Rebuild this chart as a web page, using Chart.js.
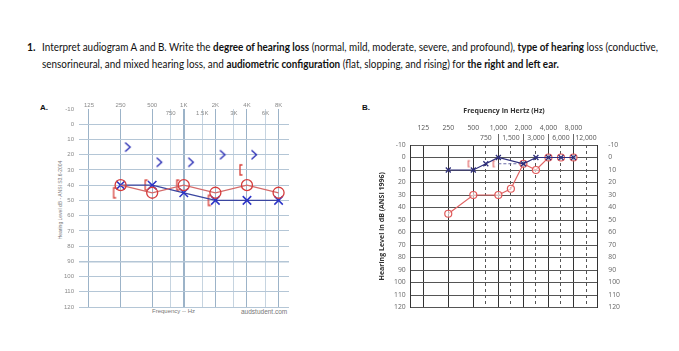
<!DOCTYPE html>
<html>
<head>
<meta charset="utf-8">
<script src="https://cdn.jsdelivr.net/npm/chart.js@4.4.0/dist/chart.umd.min.js"></script>
<style>
  body { margin: 0; background: #fff; width: 679px; height: 351px; overflow: hidden; position: relative; font-family: Lato, "Open Sans", sans-serif; }
  .q { position: absolute; left: 42px; font-size: 10.5px; line-height: 12px; color: #111; white-space: nowrap; transform-origin: 0 50%; }
  .num { position: absolute; left: 27px; top: 41px; font-size: 10.5px; line-height: 12px; font-weight: bold; color: #111; }
  .tag { position: absolute; font: bold 8px Arial, sans-serif; color: #111; }
  .cap { position: absolute; font: 6px Arial, sans-serif; color: #777; white-space: nowrap; }
  canvas { position: absolute; }
</style>
</head>
<body>
<div class="num">1.</div>
<div class="q" id="q1" style="top:41px">Interpret audiogram A and B. Write the <b>degree of hearing loss</b> (normal, mild, moderate, severe, and profound), <b>type of hearing</b> loss (conductive,</div>
<div class="q" id="q2" style="top:58px">sensorineural, and mixed hearing loss, and <b>audiometric configuration</b> (flat, slopping, and rising) for <b>the right and left ear.</b></div>

<div class="tag" style="left:40px; top:103px">A.</div>
<div class="tag" style="left:362px; top:103px">B.</div>
<div class="cap" style="left:152px; top:308px">Frequency -- Hz</div>
<div class="cap" style="left:241px; top:308px; font-size:6.5px">audstudent.com</div>
<div class="cap" style="left:60px; top:200px; font-size:5px; transform: translate(-50%, -50%) rotate(-90deg);">Hearing Level dB - ANSI S3.6-2004</div>

<canvas id="chartA" width="270" height="222" style="left:30px; top:95px"></canvas>
<canvas id="chartB" width="280" height="222" style="left:360px; top:95px"></canvas>

<script>
// shared axes
const octaveFreqs = [125, 250, 500, 1000, 2000, 4000, 8000];
const dbTicks = [-10, 0, 10, 20, 30, 40, 50, 60, 70, 80, 90, 100, 110, 120];

// audiogram A
const octaveLabelsA = ['125', '250', '500', '1K', '2K', '4K', '8K'];
const halfFreqsA = [750, 1500, 3000, 6000];
const halfLabelsA = ['750', '1.5K', '3K', '6K'];
const freqA = [250, 500, 1000, 2000, 4000, 8000];
const rightAirA = [40, 45, 40, 45, 40, 45];
const leftAirA = [40, 40, 45, 50, 50, 50];
const boneFreqA = [250, 500, 1000, 2000, 4000];
const rightBoneA = [45, 40, 40, 50, 30];
const leftBoneA = [15, 25, 25, 20, 20];

// audiogram B
const octaveLabelsB = ['125', '250', '500', '1,000', '2,000', '4,000', '8,000'];
const halfFreqsB = [750, 1500, 3000, 6000, 12000];
const halfLabelsB = ['750', '1,500', '3,000', '6,000', '12,000'];
const rightFreqB = [250, 500, 1000, 1500, 2000, 3000, 4000, 6000, 8000];
const rightAirB = [45, 30, 30, 25, 5, 10, 0, 0, 0];
const leftFreqB = [250, 500, 750, 1000, 2000, 3000, 4000, 6000, 8000];
const leftAirB = [10, 10, 5, 0, 5, 0, 0, 0, 0];
const rightBoneFreqB = [500, 1000];
const rightBoneB = [5, 5];
const leftBoneFreqB = [1000, 2000];
const leftBoneB = [5, 5];

// fit question lines to the page width
const q1 = document.getElementById('q1');
const q2 = document.getElementById('q2');
const sx = 616 / q1.getBoundingClientRect().width;
q1.style.transform = 'scaleX(' + sx + ')';
q2.style.transform = 'scaleX(' + sx + ')';

// A uses a true log axis, B puts the half octaves in the middle
const octA = f => Math.log2(f / 125);
const octB = f => {
  const n = Math.floor(Math.log2(f / 125) + 1e-9);
  return f === 125 * Math.pow(2, n) ? n : n + 0.5;
};
const pts = (fs, vs, pos) => fs.map((f, i) => ({ x: pos(f), y: vs[i] }));
const setTicks = values => scale => { scale.ticks = values.map(v => ({ value: v })); };

function symbol(draw) {
  const c = document.createElement('canvas');
  c.width = 30; c.height = 16;
  draw(c.getContext('2d'));
  return c;
}
const chevronA = symbol(g => {
  g.strokeStyle = '#2b2fb5'; g.lineWidth = 1.4;
  g.beginPath(); g.moveTo(19.5, 3.5); g.lineTo(24.5, 8); g.lineTo(19.5, 12.5); g.stroke();
});
const bracketA = symbol(g => {
  g.strokeStyle = '#d8403a'; g.lineWidth = 1.3;
  g.beginPath(); g.moveTo(10.5, 3); g.lineTo(8, 3); g.lineTo(8, 13); g.lineTo(10.5, 13); g.stroke();
});
const bracketB = symbol(g => {
  g.strokeStyle = '#e05858'; g.lineWidth = 1.1;
  g.beginPath(); g.moveTo(11.5, 5); g.lineTo(10, 5); g.lineTo(10, 11); g.lineTo(11.5, 11); g.stroke();
});

const none = 'rgba(0,0,0,0)';
const fontA = { family: 'Arial', size: 6 };

new Chart(document.getElementById('chartA'), {
  type: 'scatter',
  data: {
    datasets: [
      { data: pts(freqA, rightAirA, octA), showLine: true, borderColor: '#d46a6a', borderWidth: 1.3,
        pointStyle: 'circle', pointRadius: 5.5, pointBorderColor: '#d63c3c', pointBackgroundColor: none, pointBorderWidth: 1.3 },
      { data: pts(freqA, leftAirA, octA), showLine: true, borderColor: '#3a46a0', borderWidth: 1.3,
        pointStyle: 'crossRot', pointRadius: 6, pointBorderColor: '#2b33c8', pointBorderWidth: 1.5 },
      { data: pts(boneFreqA, leftBoneA, octA), pointStyle: chevronA },
      { data: pts(boneFreqA, rightBoneA, octA), pointStyle: bracketA }
    ]
  },
  options: {
    responsive: false, animation: false, devicePixelRatio: 1,
    layout: { padding: { left: 20, right: 11, top: 0, bottom: 10 } },
    plugins: { legend: { display: false }, tooltip: { enabled: false } },
    scales: {
      x: {
        type: 'linear', position: 'top', weight: 1, min: -0.316, max: 6.33,
        afterBuildTicks: setTicks(octaveFreqs.map(octA)),
        afterFit: s => { s.height = 14; },
        ticks: { callback: (v, i) => octaveLabelsA[i], autoSkip: false, maxRotation: 0, padding: 0.5, font: fontA, color: '#8a8a8a' },
        grid: { color: '#9cb3c8', lineWidth: c => (c.index === 3 ? 2 : 1), drawTicks: false },
        border: { display: false }
      },
      x2: {
        type: 'linear', position: 'top', weight: 0, min: -0.316, max: 6.33,
        afterBuildTicks: setTicks(halfFreqsA.map(octA)),
        afterFit: s => { s.height = 0; },
        ticks: { callback: (v, i) => halfLabelsA[i], autoSkip: false, maxRotation: 0, mirror: true, padding: 1, font: fontA, color: '#8a8a8a' },
        grid: { color: '#c6d4e0', drawTicks: false },
        border: { display: false }
      },
      y: {
        type: 'linear', min: -10, max: 120, reverse: true,
        afterBuildTicks: setTicks(dbTicks),
        afterFit: s => { s.width = 29; },
        ticks: { padding: 5, font: fontA, color: '#8a8a8a' },
        grid: { color: c => (c.tick.value === -10 ? none : '#b4c6d6'), lineWidth: c => (c.tick.value === 90 ? 1.6 : 1), drawTicks: false },
        border: { display: false }
      }
    }
  }
});

const fontB = { family: 'Open Sans', size: 6.8 };

new Chart(document.getElementById('chartB'), {
  type: 'scatter',
  data: {
    datasets: [
      { data: pts(leftFreqB, leftAirB, octB), showLine: true, borderColor: '#2e2e7a', borderWidth: 1.2,
        pointStyle: 'crossRot', pointRadius: 3.5, pointBorderColor: '#2e2e7a', pointBorderWidth: 1.3 },
      { data: pts(rightFreqB, rightAirB, octB), showLine: true, borderColor: '#e06464', borderWidth: 1.2,
        pointStyle: 'circle', pointRadius: 3.5, pointBorderColor: '#e05858', pointBackgroundColor: 'rgba(255,255,255,0.6)', pointBorderWidth: 1.2 },
      { data: pts(leftBoneFreqB, leftBoneB, octB), showLine: true, borderColor: '#6b6ba8', borderWidth: 1, borderDash: [3, 2], pointRadius: 0 },
      { data: pts(rightBoneFreqB, rightBoneB, octB), pointStyle: bracketB }
    ]
  },
  options: {
    responsive: false, animation: false, devicePixelRatio: 1,
    layout: { padding: { left: 14, right: 20, top: 8, bottom: 9.5 } },
    plugins: { legend: { display: false }, tooltip: { enabled: false } },
    scales: {
      x: {
        type: 'linear', position: 'top', weight: 2, min: -0.5, max: 6.95,
        afterBuildTicks: setTicks(octaveFreqs.map(octB)),
        afterFit: s => { s.height = 30; },
        title: { display: true, text: 'Frequency in Hertz (Hz)', color: '#333', padding: { top: 4, bottom: 0 },
                 font: { family: 'Open Sans', size: 7, weight: 'bold' } },
        ticks: { callback: (v, i) => octaveLabelsB[i], autoSkip: false, maxRotation: 0, padding: 1.2, font: fontB, color: '#555' },
        grid: { color: '#333', drawTicks: false },
        border: { display: false }
      },
      x2: {
        type: 'linear', position: 'top', weight: 1, min: -0.5, max: 6.95,
        afterBuildTicks: setTicks(halfFreqsB.map(octB)),
        afterFit: s => { s.height = 12; },
        ticks: { callback: (v, i) => halfLabelsB[i], autoSkip: false, maxRotation: 0, padding: 2.9, font: fontB, color: '#555' },
        grid: { color: '#555', drawTicks: false },
        border: { display: false, dash: [3, 3] }
      },
      // separators between the half-octave labels
      x3: {
        type: 'linear', position: 'top', weight: 0, min: -0.5, max: 6.95,
        afterBuildTicks: setTicks(octaveFreqs.map(octB)),
        afterFit: s => { s.height = 0; },
        ticks: { display: false },
        grid: { drawOnChartArea: false, drawTicks: true, tickLength: 11, tickWidth: 1,
                tickColor: c => (c.tick && c.tick.value >= 3 ? '#666' : none) },
        border: { display: false }
      },
      y: {
        type: 'linear', min: -10, max: 120, reverse: true,
        afterBuildTicks: setTicks(dbTicks),
        afterFit: s => { s.width = 36.7; },
        title: { display: true, text: 'Hearing Level in dB (ANSI 1996)', color: '#333', padding: { top: 4, bottom: 0 },
                 font: { family: 'Open Sans', size: 7, weight: 'bold' } },
        ticks: { padding: 5, font: fontB, color: '#666' },
        grid: { color: '#555', drawTicks: false },
        border: { display: true, color: '#333', width: 1 }
      },
      y2: {
        type: 'linear', position: 'right', min: -10, max: 120, reverse: true,
        afterBuildTicks: setTicks(dbTicks),
        afterFit: s => { s.width = 22.7; },
        ticks: { padding: 3, font: fontB, color: '#666' },
        grid: { display: false },
        border: { display: true, color: '#333', width: 1 }
      }
    }
  }
});
</script>
</body>
</html>
